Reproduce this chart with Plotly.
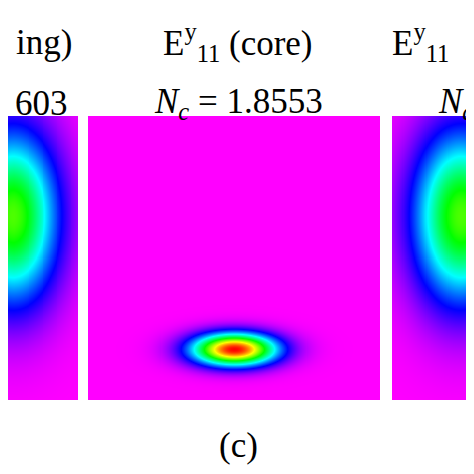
import numpy as np
import plotly.graph_objects as go

# mode blobs: (cx, cy, sx, sy, peak) in panel pixel units, y measured from top
left_blob = (5, 100, 48, 85, 0.66)
core_blob = (145, 232, 42, 16, 1.0)
right_blob = (66, 100, 46, 85, 0.66)
panel_w = [75, 290, 86]
panel_h = 283

cscale = [[0, "#ff00ff"], [0.2, "#0000ff"], [0.4, "#00ffff"],
          [0.6, "#00ff00"], [0.8, "#ffff00"], [1, "#ff0000"]]


def field(w, blob):
    cx, cy, sx, sy, pk = blob
    x = np.arange(w)
    y = np.arange(panel_h)
    X, Y = np.meshgrid(x, y)
    return pk * np.exp(-((X - cx) / sx) ** 2 - ((Y - cy) / sy) ** 2)


fig = go.Figure()
doms = [[0, 70 / 474], [80 / 474, 372 / 474], [384 / 474, 1]]
blobs = [left_blob, core_blob, right_blob]
for i, (w, b) in enumerate(zip(panel_w, blobs)):
    ax = "" if i == 0 else str(i + 1)
    fig.add_trace(go.Heatmap(z=field(w, b), colorscale=cscale, zmin=0, zmax=1,
                             showscale=False, xaxis="x" + ax, yaxis="y" + ax,
                             hoverinfo="skip"))
    fig.layout["xaxis" + ax] = dict(domain=doms[i], visible=False, range=[-0.5, w - 0.5])
    fig.layout["yaxis" + ax] = dict(domain=[1 - 392 / 474, 1 - 108 / 474], visible=False,
                                    range=[panel_h - 0.5, -0.5], anchor="x" + ax)

font = dict(family="Liberation Serif", size=35, color="black")
texts = [
    (66, 35, "ing)", "right"),
    (230, 35, "E<sup>y</sup><sub>11</sub> (core)", "center"),
    (382, 35, "E<sup>y</sup><sub>11</sub>", "left"),
    (62, 95, "603", "right"),
    (230, 95, "<i>N<sub>c</sub></i> = 1.8553", "center"),
    (428, 95, "<i>N<sub>cl</sub></i>", "left"),
    (230, 437, "(c)", "center"),
]
for x, y, t, al in texts:
    fig.add_annotation(x=x / 474, y=1 - y / 474, xref="paper", yref="paper", text=t,
                       showarrow=False, xanchor=al, yanchor="middle", font=font)

fig.update_layout(width=474, height=474, margin=dict(l=0, r=0, t=0, b=0),
                  paper_bgcolor="white", plot_bgcolor="white")
fig.write_html("out.html")
